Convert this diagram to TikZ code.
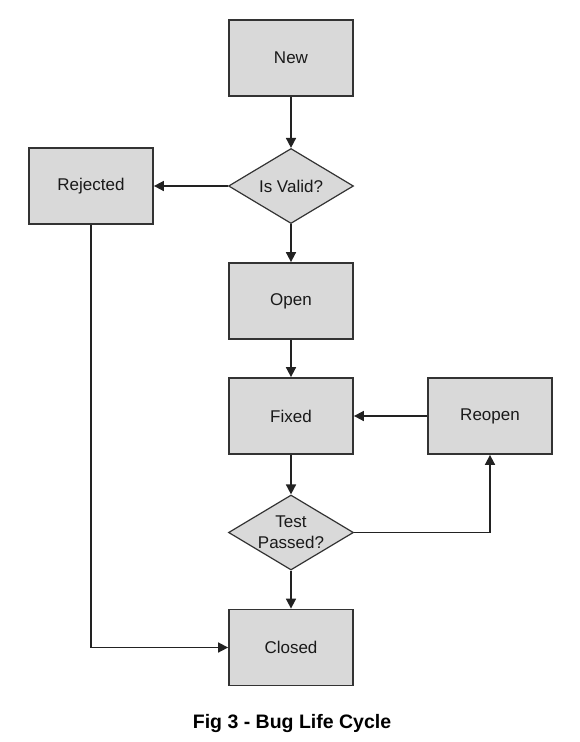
\documentclass[tikz,border=0pt]{standalone}
\usepackage{fontspec}
\setmainfont{Liberation Sans}
\usetikzlibrary{shapes.geometric,arrows.meta}
\definecolor{boxfill}{HTML}{D9D9D9}
\definecolor{boxline}{HTML}{333333}
\definecolor{conn}{HTML}{222222}
\begin{document}
\begin{tikzpicture}[x=1pt,y=-1pt,
  stepbox/.style={draw=boxline,line width=1.8pt,fill=boxfill,minimum width=124pt,minimum height=76pt,inner sep=0pt,font=\fontsize{17}{20}\selectfont,text=black!90},
  decision/.style={diamond,draw=boxline,line width=1.2pt,fill=boxfill,minimum width=125pt,minimum height=75pt,aspect=1.667,inner sep=0pt,font=\fontsize{17}{21}\selectfont,align=center,text=black!90},
  conn/.style={draw=conn,line width=1.7pt,-{Triangle[length=10pt,width=10pt]}}]
\useasboundingbox (0,0) rectangle (580,742);
\node[stepbox] (new) at (291,58) {New};
\node[decision] (valid) at (291,186) {Is Valid?};
\node[stepbox] (rejected) at (91,186) {Rejected};
\node[stepbox] (open) at (291,301) {Open};
\node[stepbox] (fixed) at (291,416) {Fixed};
\node[stepbox] (reopen) at (490,416) {Reopen};
\node[decision] (test) at (291,532.5) {Test\\Passed?};
\node[stepbox] (closed) at (291,647.5) {Closed};
\node[font=\fontsize{19.5}{23}\bfseries\selectfont,anchor=base] (caption) at (292,728) {Fig 3 - Bug Life Cycle};
\draw[conn] (new) -- (valid);
\draw[conn] (valid) -- (rejected);
\draw[conn] (valid) -- (open);
\draw[conn] (open) -- (fixed);
\draw[conn] (reopen) -- (fixed);
\draw[conn] (fixed) -- (test);
\draw[conn] (test) -- (closed);
\draw[conn] (test.east) -| (reopen.south);
\draw[conn] (rejected.south) |- (closed.west);
\end{tikzpicture}
\end{document}
